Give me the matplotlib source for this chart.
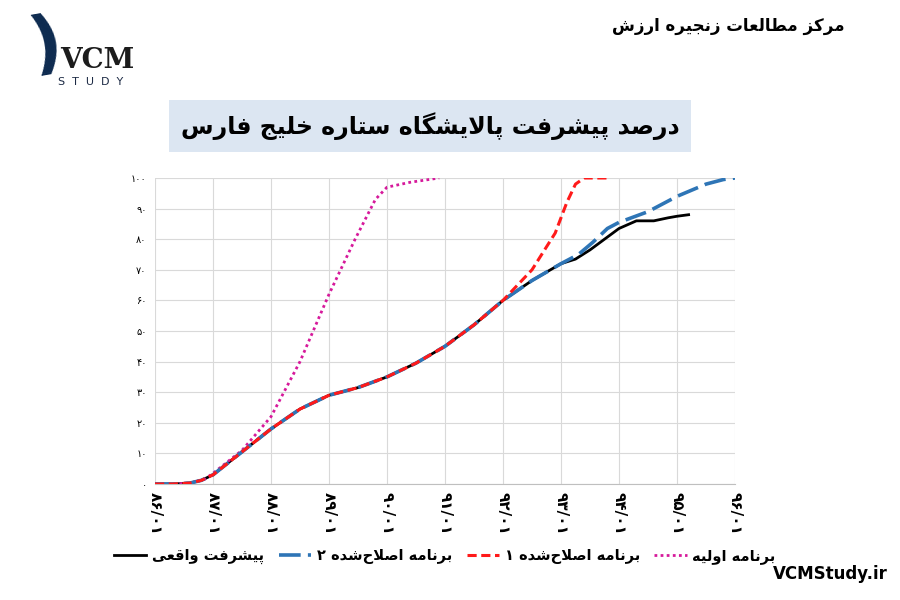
import matplotlib
matplotlib.use("Agg")
import matplotlib.pyplot as plt

# ---------- data ----------
x_labels = ["۸۶/۰۱", "۸۷/۰۱", "۸۸/۰۱", "۸۹/۰۱", "۹۰/۰۱", "۹۱/۰۱",
            "۹۲/۰۱", "۹۳/۰۱", "۹۴/۰۱", "۹۵/۰۱", "۹۶/۰۱"]
y_ticks = [0, 10, 20, 30, 40, 50, 60, 70, 80, 90, 100]
y_labels = ["۰", "۱۰", "۲۰", "۳۰", "۴۰", "۵۰", "۶۰", "۷۰", "۸۰", "۹۰", "۱۰۰"]

initial_x = [0, 0.3, 0.6, 0.85, 1.0, 1.5, 2.0, 2.5, 3.0, 3.45, 3.8, 4.0, 4.4, 4.9]
initial_y = [0, 0, 0.3, 1.5, 3.5, 11, 22, 40, 62, 80, 93, 97, 98.6, 100]

common_x = [0, 0.3, 0.6, 0.8, 1.0, 1.5, 2.0, 2.5, 3.0, 3.5, 4.0, 4.5, 5.0, 5.5, 6.0]
common_y = [0, 0, 0.3, 1.2, 3, 10.5, 18, 24.5, 29, 31.5, 35, 39.5, 45, 52, 60]

actual_x = [6.0, 6.5, 7.0, 7.25, 7.5, 7.75, 8.0, 8.3, 8.6, 8.85, 9.0, 9.2]
actual_y = [60, 66.5, 72, 73.5, 76.5, 80, 83.5, 86, 86, 87, 87.5, 88]

rev2_x = [6.0, 6.5, 7.0, 7.3, 7.55, 7.8, 8.0, 8.5, 9.0, 9.5, 9.8, 10.0]
rev2_y = [60, 66.5, 72, 75, 79, 83.5, 85.5, 89, 94, 98, 99.5, 100]

rev1_x = [6.0, 6.5, 6.9, 7.1, 7.25, 7.4, 7.6, 7.8]
rev1_y = [60, 70, 82, 92, 98, 100, 100, 100]

# ---------- minimal Persian shaping ----------
FORMS = {
    "ا": ("\uFE8D", "\uFE8E"), "د": ("\uFEA9", "\uFEAA"), "ر": ("\uFEAD", "\uFEAE"),
    "ز": ("\uFEAF", "\uFEB0"), "و": ("\uFEED", "\uFEEE"),
    "ب": ("\uFE8F", "\uFE90", "\uFE91", "\uFE92"), "پ": ("\uFB56", "\uFB57", "\uFB58", "\uFB59"),
    "ت": ("\uFE95", "\uFE96", "\uFE97", "\uFE98"), "ج": ("\uFE9D", "\uFE9E", "\uFE9F", "\uFEA0"),
    "ح": ("\uFEA1", "\uFEA2", "\uFEA3", "\uFEA4"), "خ": ("\uFEA5", "\uFEA6", "\uFEA7", "\uFEA8"),
    "س": ("\uFEB1", "\uFEB2", "\uFEB3", "\uFEB4"), "ش": ("\uFEB5", "\uFEB6", "\uFEB7", "\uFEB8"),
    "ص": ("\uFEB9", "\uFEBA", "\uFEBB", "\uFEBC"), "ط": ("\uFEC1", "\uFEC2", "\uFEC3", "\uFEC4"),
    "ع": ("\uFEC9", "\uFECA", "\uFECB", "\uFECC"), "ف": ("\uFED1", "\uFED2", "\uFED3", "\uFED4"),
    "ق": ("\uFED5", "\uFED6", "\uFED7", "\uFED8"), "ک": ("\uFB8E", "\uFB8F", "\uFB90", "\uFB91"),
    "گ": ("\uFB92", "\uFB93", "\uFB94", "\uFB95"), "ل": ("\uFEDD", "\uFEDE", "\uFEDF", "\uFEE0"),
    "م": ("\uFEE1", "\uFEE2", "\uFEE3", "\uFEE4"), "ن": ("\uFEE5", "\uFEE6", "\uFEE7", "\uFEE8"),
    "ه": ("\uFEE9", "\uFEEA", "\uFEEB", "\uFEEC"), "ی": ("\uFBFC", "\uFBFD", "\uFBFE", "\uFBFF"),
}


def fa(text):
    chars = []
    i = 0
    while i < len(text):
        if text[i] == "ل" and i + 1 < len(text) and text[i + 1] == "ا":
            chars.append("LA")
            i += 2
        else:
            chars.append(text[i])
            i += 1

    def dual(c):
        return c in FORMS and len(FORMS[c]) == 4

    def letter(c):
        return c in FORMS or c == "LA"

    out = []
    for k, c in enumerate(chars):
        prev = chars[k - 1] if k > 0 else None
        nxt = chars[k + 1] if k + 1 < len(chars) else None
        jp = prev is not None and dual(prev)
        if c == "LA":
            out.append("\uFEFC" if jp else "\uFEFB")
            continue
        if c not in FORMS:
            if c != "\u200c":
                out.append(c)
            continue
        f = FORMS[c]
        jn = dual(c) and nxt is not None and letter(nxt)
        if jp and jn:
            out.append(f[3])
        elif jp:
            out.append(f[1])
        elif jn:
            out.append(f[2])
        else:
            out.append(f[0])
    return "".join(reversed(out))


FONT = "DejaVu Sans"
plt.rcParams["font.family"] = FONT

fig = plt.figure(figsize=(9, 6), dpi=100)
ax = fig.add_axes([155 / 900, 1 - 484 / 600, 580 / 900, 306 / 600])

ax.plot(initial_x, initial_y, color="#d6199b", lw=2, ls=(0, (1, 1.2)), label=fa("برنامه اولیه"))
ax.plot(common_x + rev1_x[1:], common_y + rev1_y[1:], color="#ff1a1a", lw=2.2,
        ls=(0, (3, 1.5)), label="۱ " + fa("برنامه اصلاح‌شده"), zorder=3)
ax.plot(common_x + rev2_x[1:], common_y + rev2_y[1:], color="#2e75b6", lw=2.6,
        ls=(0, (6, 2)), label="۲ " + fa("برنامه اصلاح‌شده"), zorder=2)
ax.plot(common_x + actual_x[1:], common_y + actual_y[1:], color="black", lw=2,
        label=fa("پیشرفت واقعی"), zorder=1)

ax.set_xlim(0, 10)
ax.set_ylim(0, 100)
ax.set_xticks(range(len(x_labels)))
ax.set_xticklabels(x_labels, rotation=-90, fontsize=11, fontweight="bold")
ax.set_yticks(y_ticks)
ax.set_yticklabels(y_labels, fontsize=7)
ax.grid(True, color="#d9d9d9", lw=0.8)
ax.set_axisbelow(True)
for s in ["top", "right", "left"]:
    ax.spines[s].set_visible(False)
ax.spines["bottom"].set_color("#bfbfbf")
ax.tick_params(length=0, pad=6)

h, l = ax.get_legend_handles_labels()
order = [3, 2, 1, 0]
fig.legend([h[i] for i in order], [l[i] for i in order], loc="center",
           bbox_to_anchor=(445 / 900, 1 - 556 / 600), ncol=4, frameon=False,
           prop={"family": FONT, "size": 10.5, "weight": "bold"},
           handlelength=2.2, columnspacing=1.0, handletextpad=0.4)

fig.text(430 / 900, 1 - 126 / 600, fa("درصد پیشرفت پالایشگاه ستاره خلیج فارس"),
         ha="center", va="center", fontsize=17, fontweight="bold",
         bbox=dict(boxstyle="square,pad=0.5", fc="#dce6f2", ec="none"))

fig.text(845 / 900, 1 - 26 / 600, fa("مرکز مطالعات زنجیره ارزش"), ha="right",
         va="center", fontsize=12, fontweight="bold")
fig.text(888 / 900, 1 - 574 / 600, "VCMStudy.ir", ha="right", va="center",
         fontsize=12, fontweight="bold")

# logo
fig.text(60 / 900, 1 - 60 / 600, "VCM", family="DejaVu Serif", fontsize=20,
         fontweight="bold", color="#1c1c1c", va="center")
fig.text(58 / 900, 1 - 82 / 600, "S  T  U  D  Y", fontsize=8, color="#1c2a44", va="center")
fig.text(25 / 900, 1 - 45 / 600, ")", fontsize=50, color="#0d2a4f", va="center",
         rotation=10, fontweight="bold")

fig.savefig("out.png", dpi=100)
